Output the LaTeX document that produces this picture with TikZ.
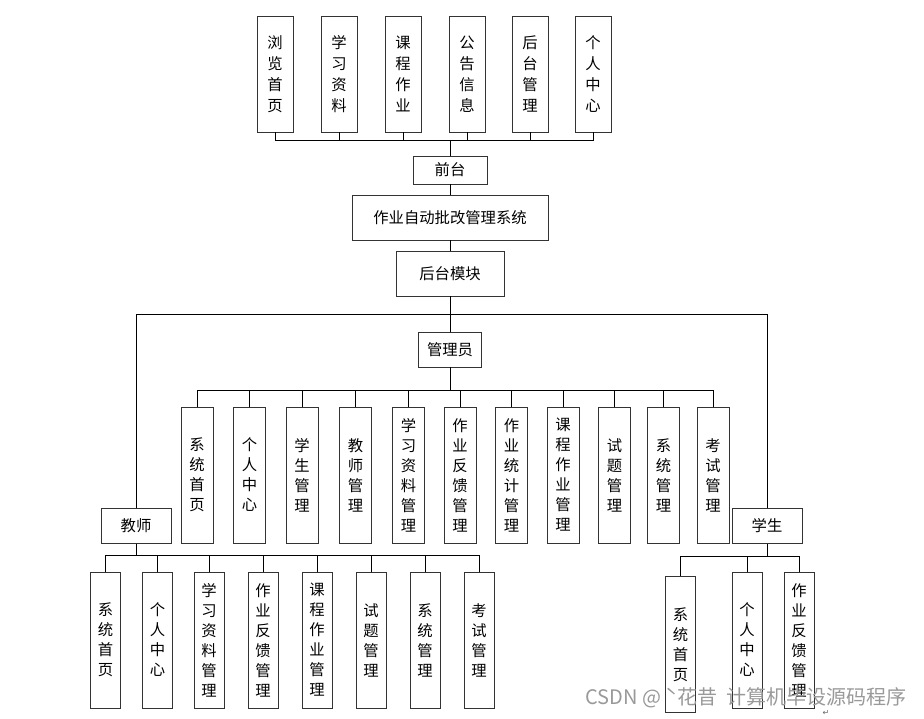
\documentclass[tikz,border=0pt]{standalone}
\usepackage{fontspec}
\setmainfont{Noto Sans CJK SC}
\newfontfamily\symfont{DejaVu Sans}

\tikzset{
  box/.style={draw=black!80, line width=0.7pt, fill=white, inner sep=0pt, align=center,
    font=\fontsize{11.5}{15}\selectfont},
  topbox/.style={box, minimum width=27pt, minimum height=87pt, font=\fontsize{11.5}{15.75}\selectfont},
  modbox/.style={box, minimum width=24pt, minimum height=102pt},
  subbox/.style={box, minimum width=22.5pt, minimum height=102pt},
  rolebox/.style={box, minimum width=52.5pt, minimum height=26.25pt},
  link/.style={draw=black, line width=0.75pt}
}

\begin{document}
\begin{tikzpicture}[x=0.75pt, y=-0.75pt]
\useasboundingbox (0,0) rectangle (924,718);
% front end
\node[topbox] (q1) at (275,74) {浏\\览\\首\\页};
\node[topbox] (q2) at (339,74) {学\\习\\资\\料};
\node[topbox] (q3) at (403,74) {课\\程\\作\\业};
\node[topbox] (q4) at (467,74) {公\\告\\信\\息};
\node[topbox] (q5) at (530,74) {后\\台\\管\\理};
\node[topbox] (q6) at (593,74) {个\\人\\中\\心};
\node[box, minimum width=55.5pt, minimum height=21pt] (qt) at (450,170) {前台};
% system
\node[box, minimum width=147pt, minimum height=33.75pt] (sys) at (450,217.5) {作业自动批改管理系统};
\node[box, minimum width=81pt, minimum height=33.75pt] (ht) at (450,273.5) {后台模块};
% roles
\node[box, minimum width=47.25pt, minimum height=26.25pt] (gly) at (450,349.5) {管理员};
\node[rolebox] (js) at (136,526) {教师};
\node[rolebox] (xs) at (767,526) {学生};
% admin modules
\node[modbox] (g1) at (197,475) {系\\统\\首\\页};
\node[modbox] (g2) at (249.5,475) {个\\人\\中\\心};
\node[modbox] (g3) at (302,475) {学\\生\\管\\理};
\node[modbox] (g4) at (355.5,475) {教\\师\\管\\理};
\node[modbox] (g5) at (408.5,475) {学\\习\\资\\料\\管\\理};
\node[modbox] (g6) at (460,475) {作\\业\\反\\馈\\管\\理};
\node[modbox] (g7) at (511.5,475) {作\\业\\统\\计\\管\\理};
\node[modbox] (g8) at (563,475) {课\\程\\作\\业\\管\\理};
\node[modbox] (g9) at (614.5,475) {试\\题\\管\\理};
\node[modbox] (g10) at (663.5,475) {系\\统\\管\\理};
\node[modbox] (g11) at (713,475) {考\\试\\管\\理};
% teacher modules
\node[subbox] (j1) at (105.5,640) {系\\统\\首\\页};
\node[subbox] (j2) at (157.5,640) {个\\人\\中\\心};
\node[subbox] (j3) at (209,640) {学\\习\\资\\料\\管\\理};
\node[subbox] (j4) at (263,640) {作\\业\\反\\馈\\管\\理};
\node[subbox] (j5) at (317,640) {课\\程\\作\\业\\管\\理};
\node[subbox] (j6) at (371,640) {试\\题\\管\\理};
\node[subbox] (j7) at (425,640) {系\\统\\管\\理};
\node[subbox] (j8) at (479,640) {考\\试\\管\\理};
% student modules
\node[subbox] (s1) at (680.5,644.5) {系\\统\\首\\页};
\node[subbox] (s2) at (747,640) {个\\人\\中\\心};
\node[subbox] (s3) at (799,640) {作\\业\\反\\馈\\管\\理};

\draw[link] (q1.south) -- ++(0,8) -| (qt.north); \draw[link] (q2.south) -- ++(0,8) -| (qt.north);
\draw[link] (q3.south) -- ++(0,8) -| (qt.north); \draw[link] (q4.south) -- ++(0,8) -| (qt.north);
\draw[link] (q5.south) -- ++(0,8) -| (qt.north); \draw[link] (q6.south) -- ++(0,8) -| (qt.north);
\draw[link] (qt)--(sys); \draw[link] (sys)--(ht);
\draw[link] (ht)--(gly);
\draw[link] (ht.south) -- ++(0,18) -| (js.north); \draw[link] (ht.south) -- ++(0,18) -| (xs.north);
\draw[link] (gly.south) -- ++(0,23) -| (g1.north); \draw[link] (gly.south) -- ++(0,23) -| (g2.north);
\draw[link] (gly.south) -- ++(0,23) -| (g3.north); \draw[link] (gly.south) -- ++(0,23) -| (g4.north);
\draw[link] (gly.south) -- ++(0,23) -| (g5.north); \draw[link] (gly.south) -- ++(0,23) -| (g6.north);
\draw[link] (gly.south) -- ++(0,23) -| (g7.north); \draw[link] (gly.south) -- ++(0,23) -| (g8.north);
\draw[link] (gly.south) -- ++(0,23) -| (g9.north); \draw[link] (gly.south) -- ++(0,23) -| (g10.north);
\draw[link] (gly.south) -- ++(0,23) -| (g11.north);
\draw[link] (js.south) -- ++(0,12) -| (j1.north); \draw[link] (js.south) -- ++(0,12) -| (j2.north);
\draw[link] (js.south) -- ++(0,12) -| (j3.north); \draw[link] (js.south) -- ++(0,12) -| (j4.north);
\draw[link] (js.south) -- ++(0,12) -| (j5.north); \draw[link] (js.south) -- ++(0,12) -| (j6.north);
\draw[link] (js.south) -- ++(0,12) -| (j7.north); \draw[link] (js.south) -- ++(0,12) -| (j8.north);
\draw[link] (xs.south) -- ++(0,13) -| (s1.north); \draw[link] (xs.south) -- ++(0,13) -| (s2.north);
\draw[link] (xs.south) -- ++(0,13) -| (s3.north);

% watermark
\node[text=black!40, anchor=west, inner sep=0pt, font=\fontsize{15}{17}\selectfont] (wm) at (585,698) {CSDN @ ˋ花昔\ \ 计算机毕设源码程序};
\node[text=black!60, inner sep=0pt, font=\symfont\fontsize{6}{7}\selectfont] (ret) at (826,713) {↵};
\end{tikzpicture}
\end{document}
